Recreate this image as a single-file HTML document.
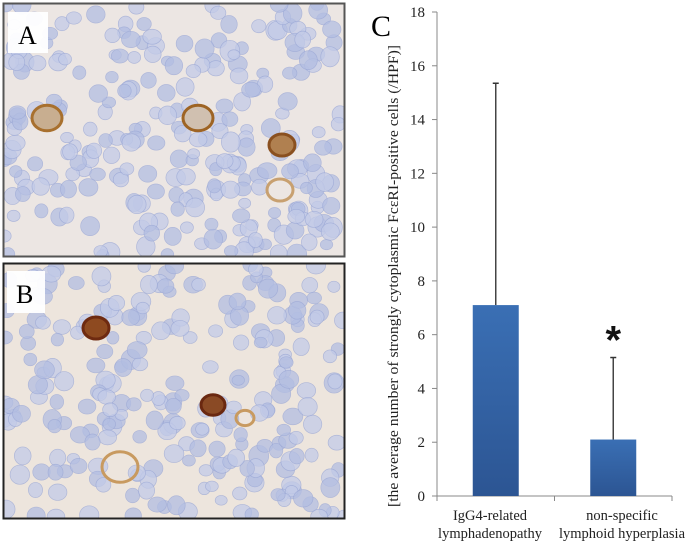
<!DOCTYPE html>
<html><head><meta charset="utf-8"><style>
html,body{margin:0;padding:0;background:#fff;}
body{width:685px;height:546px;position:relative;overflow:hidden;font-family:"Liberation Serif",serif;}
svg{position:absolute;left:0;top:0;}
</style></head><body>
<svg id="fig" width="685" height="546" viewBox="0 0 685 546">
  <defs>
    <linearGradient id="barg" x1="0" y1="0" x2="0" y2="1">
      <stop offset="0" stop-color="#3a6fb4"/><stop offset="1" stop-color="#2c5593"/>
    </linearGradient>
    <clipPath id="clipA"><rect x="4" y="4" width="340" height="252"/></clipPath>
    <clipPath id="clipB"><rect x="4" y="264" width="340" height="254"/></clipPath>
  </defs>
  <g>
    <rect x="4" y="4" width="340" height="252" fill="#ece6e3"/>
    <g id="cellsA" clip-path="url(#clipA)"></g>
    <rect x="3.5" y="3.5" width="341" height="253" fill="none" stroke="#555" stroke-width="2"/>
    <rect x="8" y="12" width="40" height="41" fill="#fff" opacity="0.95"/>
    <text x="18" y="44" font-size="26">A</text>
  </g>
  <g>
    <rect x="4" y="264" width="340" height="254" fill="#ede5dd"/>
    <g id="cellsB" clip-path="url(#clipB)"></g>
    <rect x="3.5" y="263.5" width="341" height="255" fill="none" stroke="#222" stroke-width="2"/>
    <rect x="7" y="271" width="38" height="42" fill="#fff" opacity="0.95"/>
    <text x="16" y="303" font-size="26">B</text>
  </g>
  <text x="371" y="36" font-size="30">C</text>
  <g id="chart"></g>
</svg>
<script>
const categories=["IgG4-related|lymphadenopathy","non-specific|lymphoid hyperplasia"];
const means=[7.1,2.1];
const errors=[8.25,3.05];
const yTicks=[0,2,4,6,8,10,12,14,16,18];
const NS="http://www.w3.org/2000/svg";
function mk(t,a,p){const e=document.createElementNS(NS,t);for(const k in a)e.setAttribute(k,a[k]);(p||chart).appendChild(e);return e;}
const chart=document.getElementById('chart');
const x0=437,x1=672,y0=496,yTop=12,ymax=18;
const ys=v=>y0-(v/ymax)*(y0-yTop);
const bw=(x1-x0)/categories.length;
const xc=i=>x0+bw*(i+0.5);
const labelX=[490,622];
const ya=mk('line',{x1:x0,y1:yTop,x2:x0,y2:y0,stroke:'#888','stroke-width':1});


const xa=mk('line',{x1:x0,y1:y0,x2:x1,y2:y0,stroke:'#888','stroke-width':1});


yTicks.forEach(v=>{
  mk('line',{x1:x0-5,y1:ys(v),x2:x0,y2:ys(v),stroke:'#888'});
  const t=mk('text',{x:x0-12,y:ys(v)+5,'font-size':15,'text-anchor':'end',fill:'#222'});
  t.textContent=v;
  
  
});
for(let i=0;i<=categories.length;i++){mk('line',{x1:x0+bw*i,y1:y0,x2:x0+bw*i,y2:y0+5,stroke:'#888'});}
categories.forEach((c,i)=>{
  const w=46,cx=xc(i);
  const top=ys(means[i]+errors[i]);
  const eb=mk('line',{x1:cx,y1:top,x2:cx,y2:ys(means[i]),stroke:'#444','stroke-width':1.5});
  
  
  mk('line',{x1:cx-3,y1:top,x2:cx+3,y2:top,stroke:'#333','stroke-width':1.5});
  const r=mk('rect',{x:cx-w/2,y:ys(means[i]),width:w,height:y0-ys(means[i]),fill:'url(#barg)'});
  
  
  c.split('|').forEach((ln,j)=>{
    const t=mk('text',{x:labelX[i],y:520+j*18,'font-size':14.5,'text-anchor':'middle',fill:'#222'});
    t.textContent=ln;
    
    
  });
});
const ast=mk('text',{x:xc(1),y:ys(means[1]+errors[1])-4,'font-size':40,'text-anchor':'middle','font-weight':'bold',fill:'#111','font-family':'Liberation Sans, sans-serif'});
ast.textContent='*';


const yl=mk('text',{x:0,y:0,'font-size':15,'text-anchor':'middle',fill:'#222',textLength:462,lengthAdjust:'spacingAndGlyphs',transform:'translate(398,276) rotate(-90)'});
yl.textContent='[the average number of strongly cytoplasmic FcεRI-positive cells (/HPF)]';



// decorative tissue texture (not data)
let seed=7;function rnd(){seed=(seed*16807)%2147483647;return seed/2147483647;}
function cells(g,ox,oy,w,h,n){
  for(let k=0;k<n;k++){
    const cx=ox+rnd()*w,cy=oy+rnd()*h,r=6+rnd()*4;
    mk('ellipse',{cx,cy,rx:r,ry:r*(0.8+rnd()*0.3),fill:rnd()<0.5?'#b3bee2':'#c3cbe8',stroke:'#9ba8d6','stroke-width':0.7,opacity:0.75},g);
  }
}
const gA=document.getElementById('cellsA'),gB=document.getElementById('cellsB');
cells(gA,4,4,340,252,260);cells(gB,4,264,340,254,250);
function stain(g,cx,cy,r,col,fill){mk('ellipse',{cx,cy,rx:r,ry:r*0.85,fill:fill,stroke:col,'stroke-width':3},g);}
stain(gA,47,118,15,'#a8702e','#c8ae90');stain(gA,198,118,15,'#9e6424','#d0c0b0');stain(gA,282,145,13,'#8a5020','#b08050');stain(gA,280,190,13,'#c8a070','none');
stain(gB,96,328,13,'#6e2a10','#8e4a20');stain(gB,213,405,12,'#6a2810','#8a4a25');stain(gB,120,467,18,'#c89a60','none');stain(gB,245,418,9,'#c89a60','none');
</script>
</body></html>
